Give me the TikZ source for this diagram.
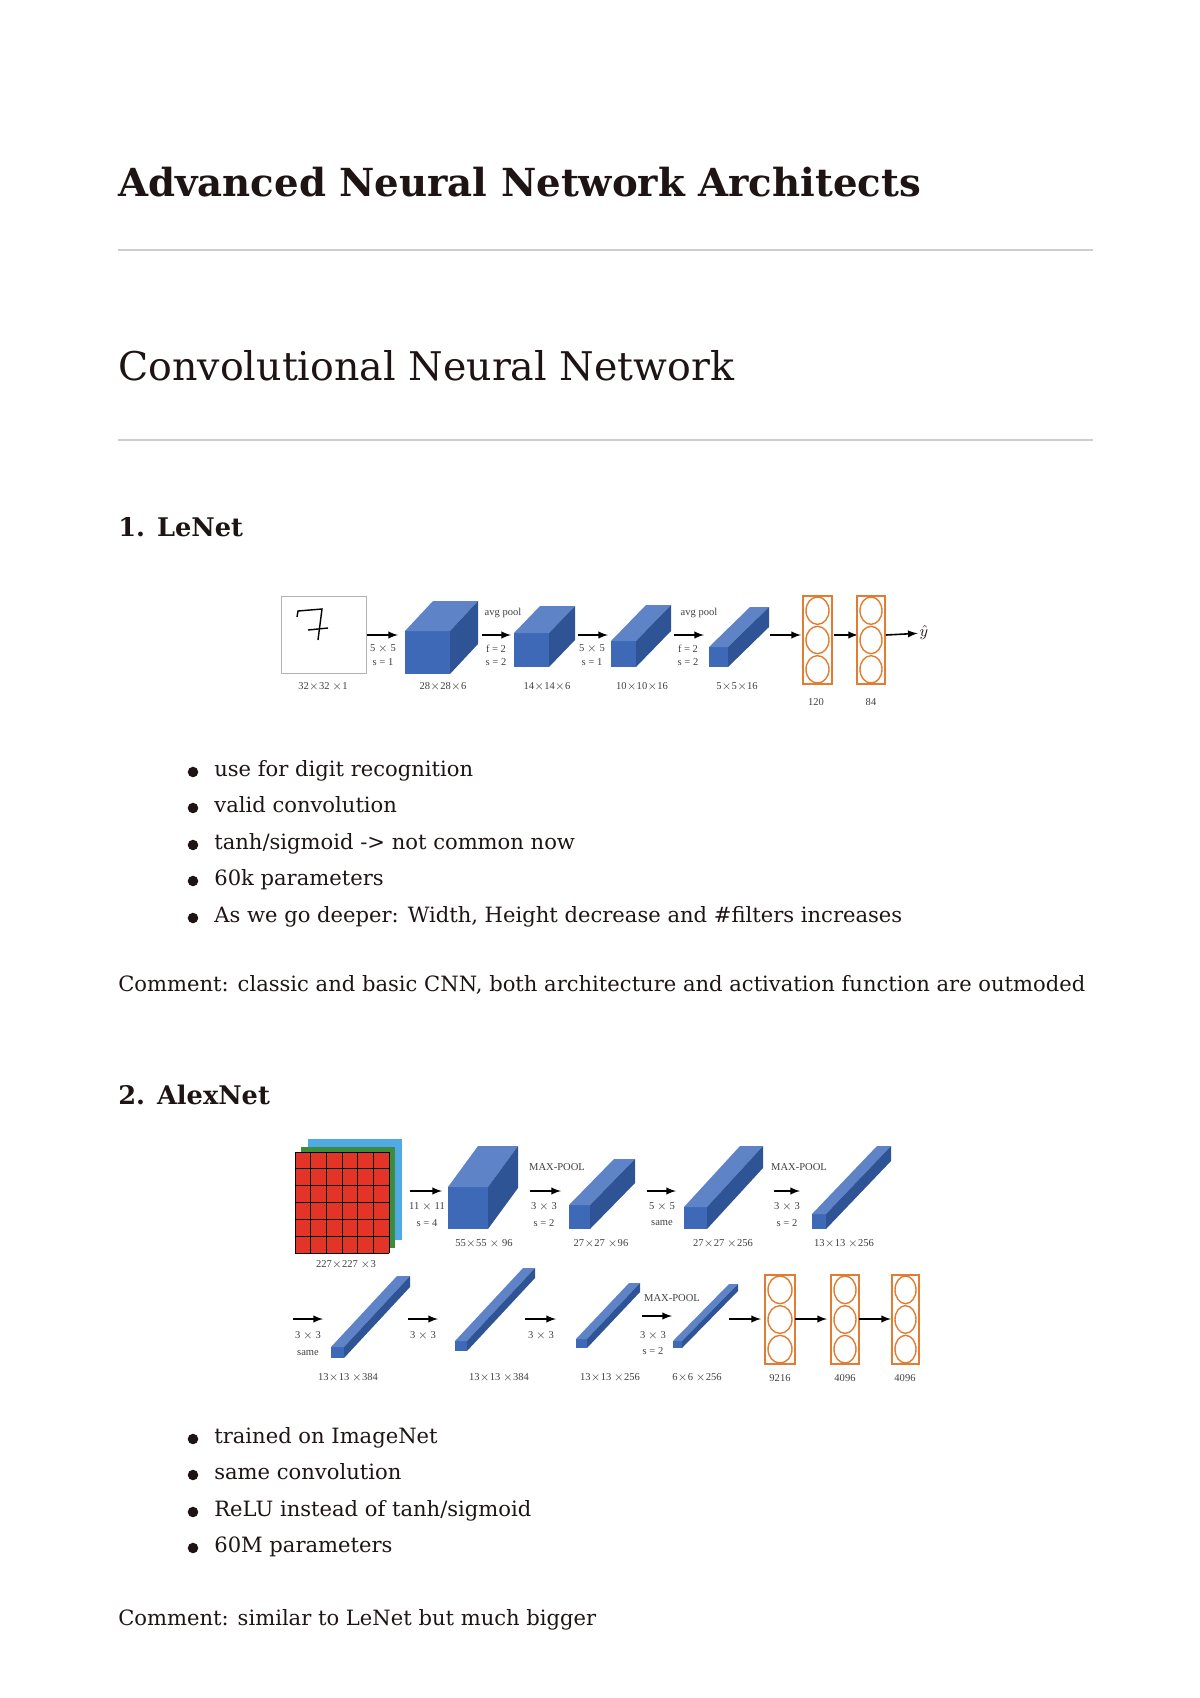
\documentclass[tikz,border=0pt]{standalone}
\usepackage{fontspec}
\setmainfont{DejaVu Serif}
\newfontfamily\figfont{Liberation Serif}
\usetikzlibrary{positioning}
\definecolor{cubefront}{RGB}{61,105,182}
\definecolor{cubetop}{RGB}{95,131,199}
\definecolor{cubeside}{RGB}{46,84,150}
\definecolor{fcorange}{RGB}{226,124,50}
\definecolor{rulegray}{RGB}{205,205,205}
\definecolor{txt}{RGB}{30,20,20}
\definecolor{gridred}{RGB}{228,52,40}
\definecolor{gridgreen}{RGB}{60,140,60}
\definecolor{gridblue}{RGB}{80,170,230}
% block: x1 ytop x2 ybottom dx dy
\newcommand{\cnnblock}[6]{%
  \fill[cubefront] (#1,#2) rectangle (#3,#4);
  \fill[cubetop] (#1,#2) -- (#3,#2) -- ({#3+#5},{#2+#6}) -- ({#1+#5},{#2+#6}) -- cycle;
  \fill[cubeside] (#3,#2) -- ({#3+#5},{#2+#6}) -- ({#3+#5},{#4+#6}) -- (#3,#4) -- cycle;
}
% fc layer: x1 ytop x2 ybottom
\newcommand{\fclayer}[4]{%
  \draw[fcorange, line width=1.2pt] (#1,#2) rectangle (#3,#4);
  \foreach \k in {1,3,5} {
    \draw[fcorange, line width=0.8pt] ({(#1+#3)/2},{#2+(#4-#2)*\k/6}) ellipse ({(#3-#1)/2-3} and {(#4-#2)/6-1});
  }
}
\begin{document}
\begin{tikzpicture}[x=0.02cm, y=-0.02cm, color=txt,
    title/.style={anchor=mid west, inner sep=0pt, font=\fontsize{22}{26}\selectfont\bfseries},
    heading/.style={anchor=mid west, inner sep=0pt, font=\fontsize{22.5}{26}\selectfont},
    section/.style={anchor=mid west, inner sep=0pt, font=\fontsize{14.6}{18}\selectfont\bfseries},
    body/.style={anchor=mid west, inner sep=0pt, font=\fontsize{12}{14}\selectfont},
    dot/.style={circle, fill=txt, inner sep=0pt, minimum size=6pt},
    rulel/.style={draw=rulegray, line width=1.2pt},
    lab/.style={font=\figfont\fontsize{6}{7}\selectfont, inner sep=0pt, text=black!75},
    arr/.style={->, >=latex, line width=0.9pt, black}]
  \useasboundingbox (0,0) rectangle (1200,1698);

  % Headings
  \node[title] (title) at (118,192) {Advanced Neural Network Architects};
  \draw[rulel] (118,250) coordinate (r1a) -- (1093,250) coordinate (r1b);
  \node[heading] (cnn) at (118,376) {Convolutional Neural Network};
  \draw[rulel] (118,440) coordinate (r2a) -- (1093,440) coordinate (r2b);
  \node[section] (lenet) at (118,532) {1. LeNet};

  % LeNet figure
  \draw[black!30] (281,596) rectangle (366,673);
  \draw[black, line width=0.8pt] (297,617) -- (298,611) -- (322,609) -- (318,640);
  \draw[black, line width=0.8pt] (308,630) -- (328,628);
  \node[lab] (l1) at (323,687) {32$\times$32 $\times$1};
  \coordinate (a1s) at (367,635); \coordinate (a1e) at (398,635);
  \draw[arr] (a1s) -- (a1e);
  \node[lab] at (383,649) {5 $\times$ 5}; \node[lab] at (383,662) {s = 1};
  \cnnblock{405}{631}{450}{674}{28}{-30}
  \node[lab] (l2) at (443,687) {28$\times$28$\times$6};
  \node[lab] at (503,613) {avg pool};
  \coordinate (a2s) at (482,635); \coordinate (a2e) at (511,635);
  \draw[arr] (a2s) -- (a2e);
  \node[lab] at (496,649) {f = 2}; \node[lab] at (496,662) {s = 2};
  \cnnblock{514}{633}{549}{667}{26}{-27}
  \node[lab] (l3) at (547,687) {14$\times$14$\times$6};
  \coordinate (a3s) at (578,635); \coordinate (a3e) at (608,635);
  \draw[arr] (a3s) -- (a3e);
  \node[lab] at (592,649) {5 $\times$ 5}; \node[lab] at (592,662) {s = 1};
  \cnnblock{611}{641}{636}{667}{35}{-36}
  \node[lab] (l4) at (642,687) {10$\times$10$\times$16};
  \node[lab] at (699,613) {avg pool};
  \coordinate (a4s) at (674,635); \coordinate (a4e) at (704,635);
  \draw[arr] (a4s) -- (a4e);
  \node[lab] at (688,649) {f = 2}; \node[lab] at (688,662) {s = 2};
  \cnnblock{709}{647}{728}{667}{41}{-40}
  \node[lab] (l5) at (737,687) {5$\times$5$\times$16};
  \coordinate (a5s) at (770,635); \coordinate (a5e) at (801,635);
  \draw[arr] (a5s) -- (a5e);
  \fclayer{803}{596}{832}{684}
  \node[lab] (l6) at (816,702) {120};
  \coordinate (a6s) at (834,635); \coordinate (a6e) at (858,635);
  \draw[arr] (a6s) -- (a6e);
  \fclayer{857}{596}{885}{684}
  \node[lab] (l7) at (871,702) {84};
  \coordinate (a7s) at (886,635);
  \node[font=\fontsize{9}{10}\selectfont, inner sep=1pt] (yhat) at (924,633) {$\hat{y}$};
  \draw[arr] (a7s) -- (yhat);

  % LeNet notes
  \foreach \y/\t [count=\i] in {772/use for digit recognition, 808/valid convolution,
      845/{tanh/sigmoid -> not common now}, 881/60k parameters,
      918/{As we go deeper: Width, Height decrease and \#filters increases}} {
    \node[dot] (ld\i) at (193,\y) {};
    \node[body] (lt\i) at (214,\y) {\t};
  }
  \node[body] (com1) at (118,987) {Comment: classic and basic CNN, both architecture and activation function are outmoded};

  \node[section] (alexnet) at (118,1100) {2. AlexNet};

  % AlexNet input
  \fill[gridblue] (308,1139) rectangle (402,1240);
  \fill[gridgreen] (301,1147) rectangle (395,1248);
  \fill[gridred] (295,1152) rectangle (389,1253);
  \foreach \i in {0,...,6} {
    \draw[black, line width=0.4pt] ({295+\i*94/6},1152) -- ({295+\i*94/6},1253);
    \draw[black, line width=0.4pt] (295,{1152+\i*101/6}) -- (389,{1152+\i*101/6});
  }
  \node[lab] (i0) at (346,1265) {227$\times$227 $\times$3};
  \coordinate (b1s) at (410,1191); \coordinate (b1e) at (442,1191);
  \draw[arr] (b1s) -- (b1e);
  \node[lab] at (427,1207) {11 $\times$ 11}; \node[lab] at (427,1223) {s = 4};
  \cnnblock{448}{1187}{488}{1229}{30}{-41}
  \node[lab] (i1) at (484,1244) {55$\times$55 $\times$ 96};
  \node[lab] at (557,1167) {MAX-POOL};
  \coordinate (b2s) at (530,1191); \coordinate (b2e) at (561,1191);
  \draw[arr] (b2s) -- (b2e);
  \node[lab] at (544,1207) {3 $\times$ 3}; \node[lab] at (544,1223) {s = 2};
  \cnnblock{569}{1205}{590}{1229}{45}{-46}
  \node[lab] (i2) at (601,1244) {27$\times$27 $\times$96};
  \coordinate (b3s) at (647,1191); \coordinate (b3e) at (676,1191);
  \draw[arr] (b3s) -- (b3e);
  \node[lab] at (662,1207) {5 $\times$ 5}; \node[lab] at (662,1223) {same};
  \cnnblock{684}{1207}{707}{1229}{56}{-61}
  \node[lab] (i3) at (723,1244) {27$\times$27 $\times$256};
  \node[lab] at (799,1167) {MAX-POOL};
  \coordinate (b4s) at (774,1191); \coordinate (b4e) at (800,1191);
  \draw[arr] (b4s) -- (b4e);
  \node[lab] at (787,1207) {3 $\times$ 3}; \node[lab] at (787,1223) {s = 2};
  \cnnblock{812}{1214}{826}{1229}{65}{-68}
  \node[lab] (i4) at (844,1244) {13$\times$13 $\times$256};

  % AlexNet second row
  \coordinate (c1s) at (293,1319); \coordinate (c1e) at (323,1319);
  \draw[arr] (c1s) -- (c1e);
  \node[lab] at (308,1336) {3 $\times$ 3}; \node[lab] at (308,1353) {same};
  \cnnblock{331}{1347}{344}{1358}{66}{-71}
  \node[lab] (j1) at (348,1378) {13$\times$13 $\times$384};
  \coordinate (c2s) at (408,1319); \coordinate (c2e) at (438,1319);
  \draw[arr] (c2s) -- (c2e);
  \node[lab] at (423,1336) {3 $\times$ 3};
  \cnnblock{455}{1341}{467}{1351}{68}{-73}
  \node[lab] (j2) at (499,1378) {13$\times$13 $\times$384};
  \coordinate (c3s) at (525,1319); \coordinate (c3e) at (556,1319);
  \draw[arr] (c3s) -- (c3e);
  \node[lab] at (541,1336) {3 $\times$ 3};
  \cnnblock{576}{1339}{587}{1348}{53}{-56}
  \node[lab] (j3) at (610,1378) {13$\times$13 $\times$256};
  \node[lab] at (672,1298) {MAX-POOL};
  \coordinate (c4s) at (642,1316); \coordinate (c4e) at (672,1316);
  \draw[arr] (c4s) -- (c4e);
  \node[lab] at (653,1336) {3 $\times$ 3}; \node[lab] at (653,1351) {s = 2};
  \cnnblock{673}{1341}{682}{1348}{56}{-57}
  \node[lab] (j4) at (697,1378) {6$\times$6 $\times$256};
  \coordinate (c5s) at (729,1319); \coordinate (c5e) at (761,1319);
  \draw[arr] (c5s) -- (c5e);
  \fclayer{765}{1275}{795}{1364}
  \node[lab] (j5) at (780,1378) {9216};
  \coordinate (c6s) at (795,1319); \coordinate (c6e) at (827,1319);
  \draw[arr] (c6s) -- (c6e);
  \fclayer{831}{1275}{859}{1364}
  \node[lab] (j6) at (845,1378) {4096};
  \coordinate (c7s) at (859,1319); \coordinate (c7e) at (891,1319);
  \draw[arr] (c7s) -- (c7e);
  \fclayer{892}{1275}{919}{1364}
  \node[lab] (j7) at (905,1378) {4096};

  % AlexNet notes
  \foreach \y/\t [count=\i] in {1439/trained on ImageNet, 1475/same convolution,
      1512/{ReLU instead of tanh/sigmoid}, 1548/60M parameters} {
    \node[dot] (ad\i) at (193,\y) {};
    \node[body] (at\i) at (214,\y) {\t};
  }
  \node[body] (com2) at (118,1621) {Comment: similar to LeNet but much bigger};
\end{tikzpicture}
\end{document}
